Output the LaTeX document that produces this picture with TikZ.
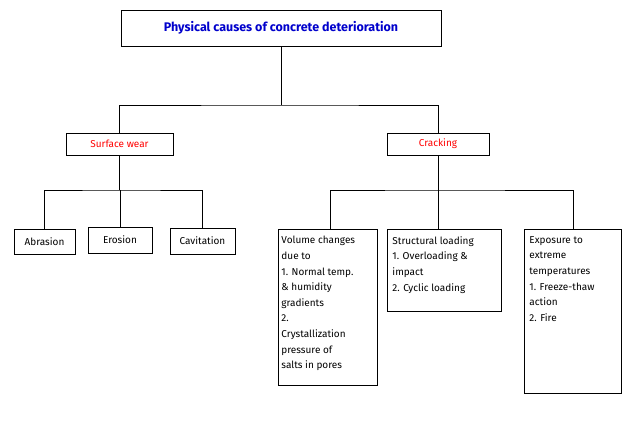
\documentclass[tikz,border=0pt]{standalone}
\usepackage{fontspec}
\setmainfont{Fira Sans}
\begin{document}
\begin{tikzpicture}[x=1pt,y=-1pt,line width=0.9pt,
  box/.style={draw,rectangle,inner sep=0pt},
  txt/.style={anchor=north west,align=left,font=\fontsize{10}{15.6}\selectfont,inner sep=0pt}]
\useasboundingbox (0,0) rectangle (638,429);
\fill[white] (0,0) rectangle (638,429);
% boxes
\node[box,minimum width=320pt,minimum height=36pt,font=\fontsize{12.5}{14}\selectfont\bfseries,text=blue!80!black] (title) at (281,28) {Physical causes of concrete deterioration};
\node[box,minimum width=107pt,minimum height=22pt,font=\fontsize{10}{12}\selectfont,text=red] (sw) at (119.5,144) {Surface wear};
\node[box,minimum width=102pt,minimum height=22pt,font=\fontsize{10}{12}\selectfont,text=red] (cr) at (438,144) {Cracking};
\node[box,minimum width=61pt,minimum height=25pt,font=\fontsize{10}{12}\selectfont] (ab) at (44.5,241.5) {Abrasion};
\node[box,minimum width=64pt,minimum height=26pt,font=\fontsize{10}{12}\selectfont] (er) at (120,240) {Erosion};
\node[box,minimum width=65pt,minimum height=26pt,font=\fontsize{10}{12}\selectfont] (ca) at (202.5,241) {Cavitation};
\draw (278,229) rectangle (377,385);
\node[txt] (vc) at (281,236) {Volume changes\\due to\\1. Normal temp.\\\& humidity\\gradients\\2.\\Crystallization\\pressure of\\salts in pores};
\coordinate (vct) at (330,229);
\draw (387,229) rectangle (501,311);
\node[txt] (sl) at (392,236) {Structural loading\\1. Overloading \&\\impact\\2. Cyclic loading};
\coordinate (slt) at (438,229);
\draw (524,229) rectangle (621,393);
\node[txt] (ex) at (529,236) {Exposure to\\extreme\\temperatures\\1. Freeze-thaw\\action\\2. Fire};
\coordinate (ext) at (573,229);
% connectors
\coordinate (j1) at (281,105);
\draw (title.south) -- (j1);
\draw (sw.north) |- (j1) -| (cr.north);
\coordinate (j2) at (119.5,190);
\draw (sw.south) -- (j2);
\draw (ab.north) |- (j2) -| (ca.north);
\draw (j2) -| (er.north);
\coordinate (j3) at (438,190);
\draw (cr.south) -- (j3);
\draw (vct) |- (j3) -| (ext);
\draw (j3) -- (slt);
\end{tikzpicture}
\end{document}
